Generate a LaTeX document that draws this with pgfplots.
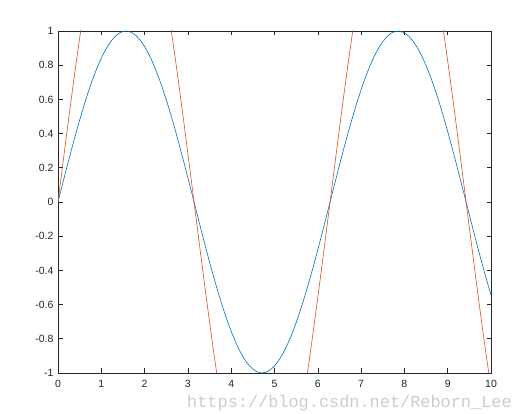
\documentclass[border=0pt]{standalone}
\usepackage{pgfplots}
\usepackage{pgfplotstable}
\pgfplotsset{compat=1.18}
\usepackage{fontspec}
\setmainfont{Liberation Sans}
\newfontfamily\wmfont{Liberation Mono}
\definecolor{mblue}{rgb}{0,0.447,0.741}
\definecolor{morange}{rgb}{0.85,0.325,0.098}
\definecolor{axgray}{rgb}{0.15,0.15,0.15}
\definecolor{wm}{RGB}{205,205,200}
\pgfplotstableread{
x s t
0.0 0 0
0.1 0.0998 0.1997
0.2 0.1987 0.3973
0.3 0.2955 0.5910
0.4 0.3894 0.7788
0.5 0.4794 0.9589
0.6 0.5646 1.1293
0.7 0.6442 1.2884
0.8 0.7174 1.4347
0.9 0.7833 1.5667
1.0 0.8415 1.6829
1.1 0.8912 1.7824
1.2 0.9320 1.8641
1.3 0.9636 1.9271
1.4 0.9854 1.9709
1.5 0.9975 1.9950
1.6 0.9996 1.9991
1.7 0.9917 1.9833
1.8 0.9738 1.9477
1.9 0.9463 1.8926
2.0 0.9093 1.8186
2.1 0.8632 1.7264
2.2 0.8085 1.6170
2.3 0.7457 1.4914
2.4 0.6755 1.3509
2.5 0.5985 1.1969
2.6 0.5155 1.0310
2.7 0.4274 0.8548
2.8 0.3350 0.6700
2.9 0.2392 0.4785
3.0 0.1411 0.2822
3.1 0.0416 0.0831
3.2 -0.0584 -0.1167
3.3 -0.1577 -0.3155
3.4 -0.2555 -0.5110
3.5 -0.3508 -0.7016
3.6 -0.4425 -0.8851
3.7 -0.5298 -1.0596
3.8 -0.6119 -1.2237
3.9 -0.6878 -1.3757
4.0 -0.7568 -1.5136
4.1 -0.8183 -1.6366
4.2 -0.8716 -1.7432
4.3 -0.9162 -1.8323
4.4 -0.9516 -1.9032
4.5 -0.9775 -1.9551
4.6 -0.9937 -1.9875
4.7 -0.9999 -1.9998
4.8 -0.9962 -1.9923
4.9 -0.9825 -1.9649
5.0 -0.9589 -1.9178
5.1 -0.9258 -1.8516
5.2 -0.8835 -1.7671
5.3 -0.8323 -1.6647
5.4 -0.7728 -1.5457
5.5 -0.7055 -1.4110
5.6 -0.6313 -1.2625
5.7 -0.5507 -1.1014
5.8 -0.4646 -0.9293
5.9 -0.3739 -0.7478
6.0 -0.2794 -0.5588
6.1 -0.1822 -0.3644
6.2 -0.0831 -0.1663
6.3 0.0168 0.0336
6.4 0.1165 0.2331
6.5 0.2151 0.4302
6.6 0.3115 0.6231
6.7 0.4048 0.8097
6.8 0.4941 0.9882
6.9 0.5784 1.1569
7.0 0.6570 1.3140
7.1 0.7290 1.4580
7.2 0.7937 1.5874
7.3 0.8504 1.7008
7.4 0.8987 1.7974
7.5 0.9380 1.8760
7.6 0.9679 1.9359
7.7 0.9882 1.9764
7.8 0.9985 1.9970
7.9 0.9989 1.9978
8.0 0.9894 1.9787
8.1 0.9699 1.9398
8.2 0.9407 1.8815
8.3 0.9022 1.8044
8.4 0.8546 1.7093
8.5 0.7985 1.5970
8.6 0.7344 1.4688
8.7 0.6630 1.3260
8.8 0.5849 1.1699
8.9 0.5010 1.0020
9.0 0.4121 0.8242
9.1 0.3191 0.6382
9.2 0.2229 0.4457
9.3 0.1245 0.2490
9.4 0.0248 0.0496
9.5 -0.0752 -0.1505
9.6 -0.1743 -0.3486
9.7 -0.2718 -0.5435
9.8 -0.3665 -0.7330
9.9 -0.4575 -0.9150
10.0 -0.5440 -1.0880
}\data
\begin{document}
\begin{tikzpicture}[x=1pt,y=1pt]
\useasboundingbox[fill=white] (0,0) rectangle (520,413);
\begin{axis}[
  at={(58pt,40pt)}, anchor=south west,
  width=433pt, height=342pt, scale only axis,
  xmin=0, xmax=10, ymin=-1, ymax=1,
  xtick={0,1,...,10},
  ytick={-1,-0.8,-0.6,-0.4,-0.2,0,0.2,0.4,0.6,0.8,1},
  tick align=inside,
  major tick length=4.5pt,
  axis line style={axgray, line width=0.6pt},
  tick style={axgray, line width=0.6pt},
  ticklabel style={font=\fontsize{10.5}{12}\selectfont, text=axgray},
  /pgf/number format/assume math mode=true,
  yticklabel style={/pgf/number format/fixed, /pgf/number format/precision=1},
  xticklabel style={yshift=-4pt},
  yticklabel style={xshift=-1pt},
  clip=true,
]
\addplot[mblue, line width=0.6pt] table[x=x, y=s] {\data};
\addplot[morange, line width=0.6pt] table[x=x, y=t] {\data};
\end{axis}
\node[anchor=base west, inner sep=0pt, text=wm, font=\wmfont\fontsize{16.9}{18}\selectfont] at (187,6) {https://blog.csdn.net/Reborn\_Lee};
\end{tikzpicture}
\end{document}
